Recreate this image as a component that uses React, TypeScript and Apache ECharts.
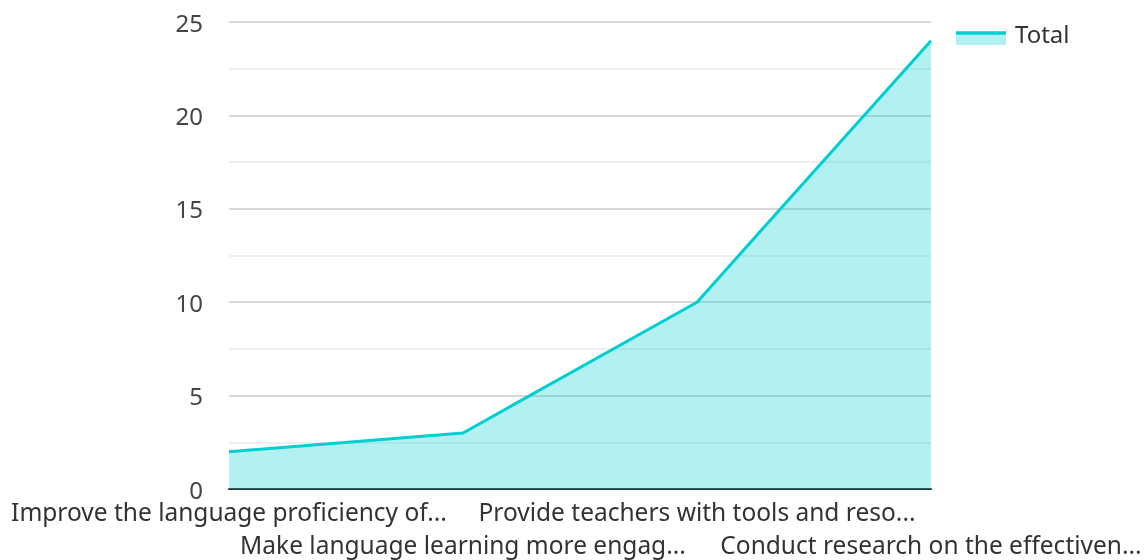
import React, { useEffect, useRef } from "react";
import * as echarts from "echarts";

const categories = [
  "Improve the language proficiency of...",
  "Make language learning more engag...",
  "Provide teachers with tools and reso...",
  "Conduct research on the effectiven...",
];
const totalValues = [2, 3, 10, 24];
const seriesName = "Total";

const LINE = "rgb(0,206,209)";
const FONT = "Noto Sans";

export default function App() {
  const ref = useRef<HTMLDivElement>(null);
  useEffect(() => {
    if (!ref.current) return;
    const chart = echarts.init(ref.current, undefined, { renderer: "svg" });
    chart.setOption({
      animation: false,
      textStyle: { fontFamily: FONT },
      grid: {
        left: 229,
        right: 217,
        top: 22,
        bottom: 71,
        containLabel: false,
        outerBoundsMode: "none",
      },
      xAxis: {
        type: "category",
        data: categories,
        boundaryGap: false,
        axisLine: { lineStyle: { color: "#333", width: 2 } },
        axisTick: { show: false },
        splitLine: { show: false },
        axisLabel: {
          interval: 0,
          color: "#333",
          fontSize: 24.5,
          fontFamily: FONT,
          margin: 6,
          lineHeight: 33,
          formatter: (v: string, i: number) => (i % 2 === 1 ? "\n" + v : v),
        },
      },
      yAxis: {
        type: "value",
        min: 0,
        max: 25,
        interval: 5,
        axisLine: { show: false },
        axisTick: { show: false },
        axisLabel: { color: "#444", fontSize: 24, fontFamily: FONT, margin: 26 },
        splitLine: { lineStyle: { color: "#ccc", width: 1.5 } },
        minorTick: { show: false, splitNumber: 2 },
        minorSplitLine: { show: true, lineStyle: { color: "#eaeaea", width: 1.5 } },
      },
      series: [
        {
          name: seriesName,
          type: "line",
          data: totalValues,
          showSymbol: false,
          lineStyle: { color: LINE, width: 3 },
          itemStyle: { color: LINE },
          areaStyle: { color: LINE, opacity: 0.3 },
        },
      ],
      graphic: [
        {
          type: "group",
          x: 956,
          y: 33,
          children: [
            { type: "rect", shape: { x: 0, y: 0, width: 50, height: 12 }, style: { fill: "#b2f0f1" } },
            { type: "line", shape: { x1: 0, y1: 0, x2: 50, y2: 0 }, style: { stroke: LINE, lineWidth: 3.5 } },
            {
              type: "text",
              x: 59,
              y: 0,
              style: { text: seriesName, fontSize: 24, fontFamily: FONT, fill: "#333", verticalAlign: "middle" },
            },
          ],
        },
      ],
    });
    return () => chart.dispose();
  }, []);
  return <div ref={ref} style={{ width: 1148, height: 560, position: "fixed", left: 0, top: 0 }} />;
}
